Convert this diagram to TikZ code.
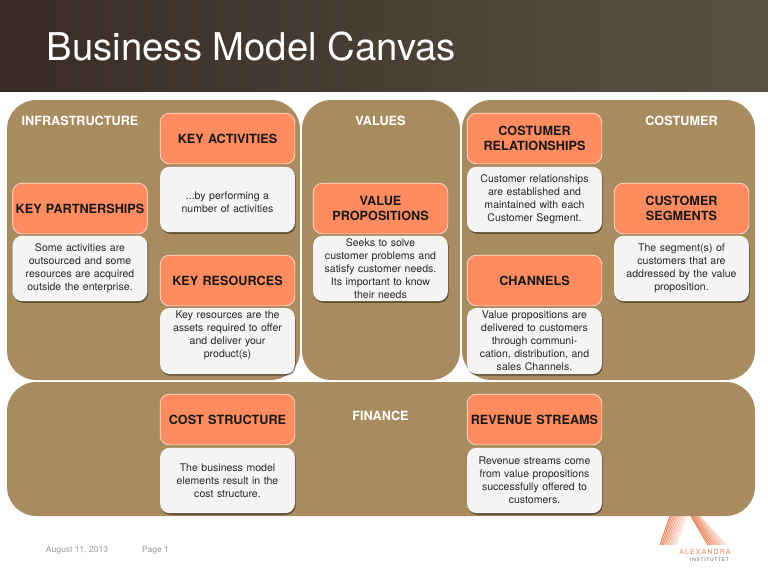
\documentclass[tikz,border=0pt]{standalone}
\usepackage{fontspec}
\setmainfont{TeX Gyre Heros}
\usetikzlibrary{shadows}

\definecolor{bandleft}{HTML}{382C24}
\definecolor{bandright}{HTML}{5A5145}
\definecolor{panelbrown}{HTML}{A88C60}
\definecolor{headorange}{HTML}{FF8C60}
\definecolor{bodywhite}{HTML}{F4F4F4}
\definecolor{logoorange}{HTML}{E9825A}

\tikzset{
  panel/.style={fill=panelbrown, draw=none, rounded corners=22pt, inner sep=0pt},
  panellabel/.style={text=white, font=\bfseries\fontsize{9.5}{11}\selectfont},
  headbox/.style={fill=headorange, draw=white!75!headorange, line width=0.5pt, rounded corners=7pt,
    minimum width=101pt, minimum height=38pt, text width=99pt, inner sep=0pt, align=center,
    font=\bfseries\fontsize{9.5}{11.3}\selectfont, text=black!90},
  bodybox/.style={fill=bodywhite, draw=none, rounded corners=7pt, minimum width=101pt, text width=92pt,
    inner sep=0pt, align=center, font=\fontsize{7.9}{9.75}\selectfont, text=black!85,
    drop shadow={shadow xshift=0.6pt, shadow yshift=-1.2pt, fill=black, opacity=0.45}},
  footlabel/.style={text=black!40, font=\fontsize{6.4}{7.5}\selectfont},
}

\begin{document}
\begin{tikzpicture}[x=0.75pt, y=-0.75pt]

  \useasboundingbox (0,0) rectangle (768,576);

  % Title band.
  \fill[left color=bandleft, right color=bandright] (0,0) rectangle (768,91);
  \node[text=white, font=\fontsize{28.7}{33}\selectfont] (title) at (251.5,47) {Business Model Canvas};

  % Logo stripes.
  \foreach \i in {0,...,10} {
    \draw[logoorange, line width=0.8pt, opacity=1-0.08*\i] (660+1.6*\i,545) -- (670+1.7*\i,516);
    \draw[logoorange, line width=0.8pt, opacity=1-0.08*\i] (708+1.9*\i,545) -- (691+0.9*\i,516);
  }
  \node[text=logoorange, font=\fontsize{5.2}{6}\selectfont] (alexandra) at (705,552) {A\,L\,E\,X\,A\,N\,D\,R\,A};
  \node[text=black!65, font=\fontsize{3.6}{4}\selectfont] (institut) at (709.5,560) {I\,N\,S\,T\,I\,T\,U\,T\,T\,E\,T};

  % 4 panels.
  \node[panel, minimum width=219.75pt, minimum height=210pt] (infra) at (153.5,240) {};
  \node[panel, minimum width=118.5pt, minimum height=210pt] (values) at (381,240) {};
  \node[panel, minimum width=219.75pt, minimum height=210pt] (customer) at (608.5,240) {};
  \node[panel, minimum width=561pt, minimum height=100.5pt] (finance) at (381,449) {};

  % Panel labels.
  \node[panellabel] (infralabel) at (80,121) {INFRASTRUCTURE};
  \node[panellabel] (valueslabel) at (380.5,121) {VALUES};
  \node[panellabel] (customerlabel) at (681.5,121) {COSTUMER};
  \node[panellabel] (financelabel) at (380.5,416) {FINANCE};

  % Orange heads.
  \node[headbox] (activities) at (227.5,138.5) {KEY ACTIVITIES};
  \node[headbox] (partners) at (80,208.5) {KEY PARTNERSHIPS};
  \node[headbox] (resources) at (227.5,280.5) {KEY RESOURCES};
  \node[headbox] (proposition) at (380.5,208.5) {VALUE\\PROPOSITIONS};
  \node[headbox] (relations) at (534.5,138.5) {COSTUMER\\RELATIONSHIPS};
  \node[headbox] (channels) at (534.5,280.5) {CHANNELS};
  \node[headbox] (segments) at (681.5,208.5) {CUSTOMER\\SEGMENTS};
  \node[headbox] (cost) at (227.5,419.5) {COST STRUCTURE};
  \node[headbox] (revenue) at (534.5,419.5) {REVENUE STREAMS};

  % White text boxes.
  \node[bodybox, minimum height=49pt] (activitiestext) at (227.5,199.5) {~\\...by performing a\\number of activities};
  \node[bodybox, minimum height=49pt] (partnerstext) at (80,268.5) {Some activities are\\outsourced and some\\resources are acquired\\outside the enterprise.};
  \node[bodybox, minimum height=49.5pt] (resourcestext) at (227.5,341) {Key resources are the\\assets required to offer\\and deliver your\\product(s)\\~};
  \node[bodybox, minimum height=49pt] (propositiontext) at (380.5,268.5) {Seeks to solve\\customer problems and\\satisfy customer needs.\\Its important to know\\their needs};
  \node[bodybox, minimum height=49pt] (relationstext) at (534.5,199.5) {Customer relationships\\are established and\\maintained with each\\Customer Segment.};
  \node[bodybox, minimum height=49.5pt] (channelstext) at (534.5,341) {Value propositions are\\delivered to customers\\through communi-\\cation, distribution, and\\sales Channels.};
  \node[bodybox, minimum height=49pt] (segmentstext) at (681.5,268.5) {The segment(s) of\\customers that are\\addressed by the value\\proposition.};
  \node[bodybox, minimum height=49pt] (costtext) at (227.5,480.5) {The business model\\elements result in the\\cost structure.};
  \node[bodybox, minimum height=49pt] (revenuetext) at (534.5,480.5) {Revenue streams come\\from value propositions\\successfully offered to\\customers.};

  % Footer.
  \node[footlabel] (footdate) at (77,550) {August 11, 2013};
  \node[footlabel] (footpage) at (155.5,550) {Page 1};

\end{tikzpicture}
\end{document}
